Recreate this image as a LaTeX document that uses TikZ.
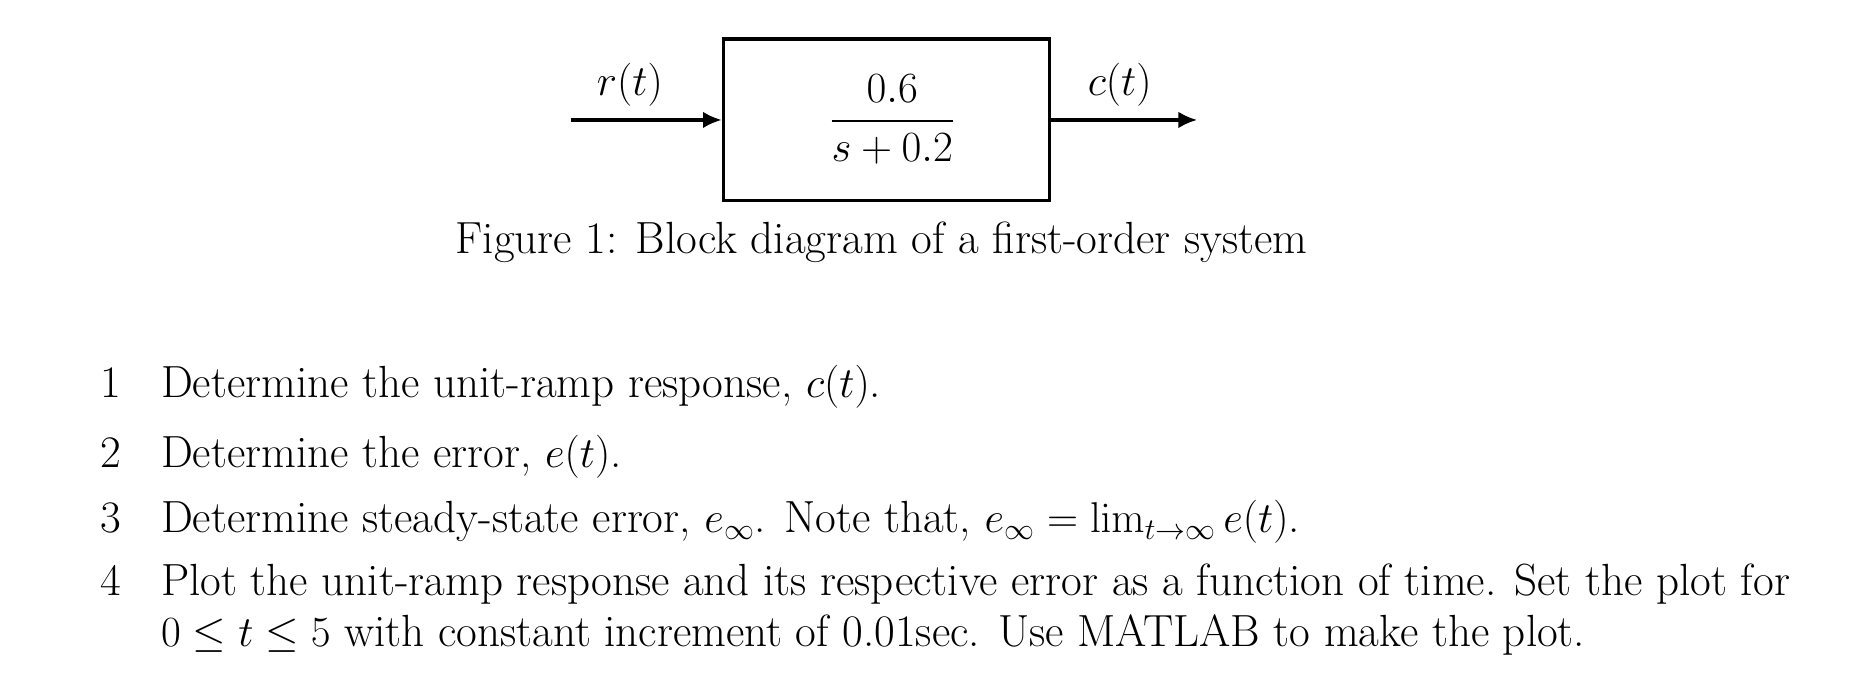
\documentclass[tikz,border=0pt]{standalone}
\usepackage{amsmath,amssymb}
\usetikzlibrary{arrows.meta}
\begin{document}
\begin{tikzpicture}[x=1cm,y=1cm,
  txt/.style={inner sep=0pt,anchor=base west,font=\fontsize{21.7}{25}\selectfont},
  num/.style={inner sep=0pt,anchor=base east,font=\fontsize{21.7}{25}\selectfont},
  lbl/.style={inner sep=0pt,font=\fontsize{21.7}{25}\selectfont},
  conn/.style={-{Latex[length=9pt,width=8pt]},line width=1.5pt}]
\useasboundingbox (0,0) rectangle (31.36,-11.54);
\node[draw,line width=1.5pt,minimum width=5.52cm,minimum height=2.74cm,inner sep=0pt] (blk) at (15.0,-2.03) {};
\node[lbl] (tf) at (15.1,-2.02) {$\dfrac{0.6}{s+0.2}$};
\coordinate (in) at (9.66,-2.03);
\coordinate (out) at (20.26,-2.03);
\draw[conn] (in) -- (blk.west);
\draw[conn] (blk.east) -- (out);
\node[lbl] (r) at (10.66,-1.44) {$r(t)$};
\node[lbl] (c) at (18.95,-1.44) {$c(t)$};
\node[lbl] (cap) at (14.92,-4.1) {Figure 1: Block diagram of a first-order system};
\node[num] (n1) at (2.06,-6.72) {1};
\node[txt] (t1) at (2.72,-6.72) {Determine the unit-ramp response, $c(t)$.};
\node[num] (n2) at (2.06,-7.92) {2};
\node[txt] (t2) at (2.72,-7.92) {Determine the error, $e(t)$.};
\node[num] (n3) at (2.06,-9.02) {3};
\node[txt] (t3) at (2.72,-9.02) {Determine steady-state error, $e_\infty$. Note that, $e_\infty=\lim_{t\to\infty}e(t)$.};
\node[num] (n4) at (2.06,-10.08) {4};
\node[txt] (t4) at (2.72,-10.08) {Plot the unit-ramp response and its respective error as a function of time. Set the plot for};
\node[txt] (t5) at (2.72,-10.94) {$0\le t\le 5$ with constant increment of 0.01sec. Use MATLAB to make the plot.};
\end{tikzpicture}
\end{document}
